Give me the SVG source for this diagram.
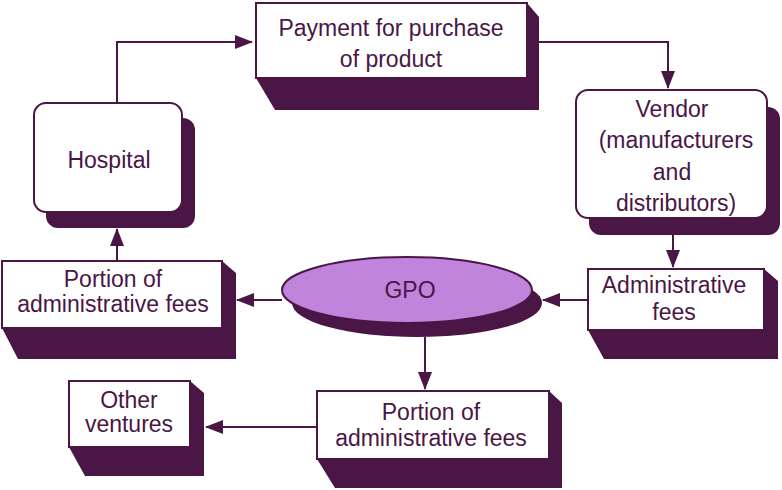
<svg xmlns="http://www.w3.org/2000/svg" width="782" height="490" viewBox="0 0 782 490">
<style>
.f{fill:#fff;stroke:#4a1645;stroke-width:2}
.s{fill:#4a1645}
.t{font-family:"Liberation Sans",Arial,sans-serif;font-size:23px;fill:#4a1645;text-anchor:middle}
.c{fill:none;stroke:#4a1645;stroke-width:2}
</style>
<defs>
<marker id="b" markerWidth="18" markerHeight="18" refX="17" refY="9" orient="auto" markerUnits="userSpaceOnUse" viewBox="0 0 18 18"><path d="M0,2L18,9L0,16z" fill="#4a1645"/></marker></defs>
<g id="payment"><polygon class="s" points="256,78 275,110 539,110 539,17 527,3 527,78"/><rect class="f" x="256" y="3" width="271" height="75"/><text class="t" x="391" y="36">Payment for purchase</text><text class="t" x="391" y="67">of product</text></g>
<g id="hospital"><rect class="s" x="46" y="118" width="149" height="110" rx="12"/><rect class="f" x="34" y="103" width="148" height="109" rx="12"/><text class="t" x="109" y="168">Hospital</text></g>
<g id="vendor"><rect class="s" x="589" y="107" width="191" height="128" rx="12"/><rect class="f" x="576" y="90" width="191" height="128" rx="12"/><text class="t" x="672" y="117">Vendor</text><text class="t" x="676" y="148">(manufacturers</text><text class="t" x="672" y="180">and</text><text class="t" x="676" y="211">distributors)</text></g>
<g id="adminfees"><polygon class="s" points="588,330 604,359 778,359 778,281 764,269 764,330"/><rect class="f" x="588" y="269" width="176" height="61"/><text class="t" x="674" y="293">Administrative</text><text class="t" x="674" y="320">fees</text></g>
<g id="portionleft"><polygon class="s" points="2,328 18,359 236,359 236,273 222,261 222,328"/><rect class="f" x="2" y="261" width="220" height="67"/><text class="t" x="113" y="287">Portion of</text><text class="t" x="113" y="312">administrative fees</text></g>
<g id="gpo"><ellipse class="s" cx="417" cy="303" rx="125" ry="34"/><ellipse cx="407" cy="290" rx="125" ry="33" fill="#c084dc" stroke="#4a1645" stroke-width="2"/><text class="t" x="410" y="298">GPO</text></g>
<g id="portionbottom"><polygon class="s" points="317,459 335,488 562,488 562,403 549,391 549,459"/><rect class="f" x="317" y="391" width="232" height="68"/><text class="t" x="431" y="420">Portion of</text><text class="t" x="431" y="446">administrative fees</text></g>
<g id="other"><polygon class="s" points="69,447 85,476 204,476 204,393 190,381 190,447"/><rect class="f" x="69" y="381" width="121" height="66"/><text class="t" x="129" y="408">Other</text><text class="t" x="129" y="432">ventures</text></g>
<g id="connectors">
<path class="c" d="M117,103V42H252" marker-end="url(#b)"/>
<path class="c" d="M539,42H668V88" marker-end="url(#b)"/>
<path class="c" d="M673,235V267" marker-end="url(#b)"/>
<path class="c" d="M588,300H543" marker-end="url(#b)"/>
<path class="c" d="M282,300H237" marker-end="url(#b)"/>
<path class="c" d="M425,337V389" marker-end="url(#b)"/>
<path class="c" d="M317,427H206" marker-end="url(#b)"/>
<path class="c" d="M117,261V229" marker-end="url(#b)"/>
</g>
</svg>
